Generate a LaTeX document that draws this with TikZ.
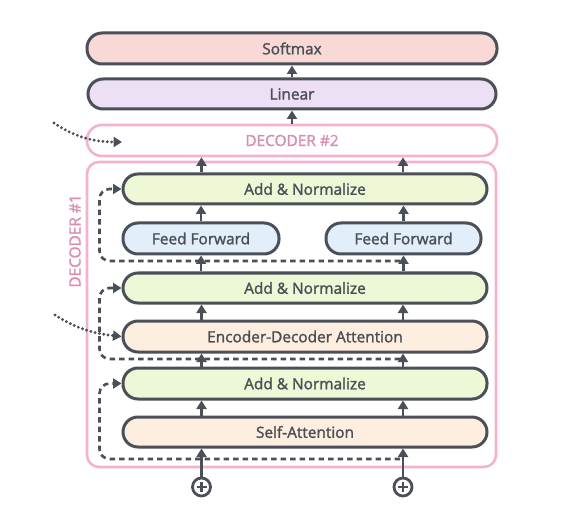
\documentclass[tikz,border=0pt]{standalone}
\usepackage{fontspec}
\setmainfont{Open Sans}[FakeBold=1.6]
\usetikzlibrary{arrows.meta,calc}
\definecolor{ink}{HTML}{4B5058}
\definecolor{txt}{HTML}{4A4F57}
\definecolor{pinkb}{HTML}{F4B2CE}
\definecolor{pinkt}{HTML}{D88FB0}
\definecolor{fsoft}{HTML}{F8D9D5}
\definecolor{flin}{HTML}{EDDFF5}
\definecolor{fadd}{HTML}{EEF8D7}
\definecolor{fff}{HTML}{E2EEFA}
\definecolor{fatt}{HTML}{FDEEDF}
\tikzset{
  layer/.style={draw=ink, line width=3pt, rounded corners=15pt, minimum height=30pt, inner sep=0pt, text=txt, font=\fontsize{15.4}{17}\selectfont},
  decbox/.style={draw=pinkb, line width=2.6pt, inner sep=0pt},
  flow/.style={draw=ink, line width=2.6pt, -{Triangle[width=10pt,length=8.5pt]}},
  resid/.style={draw=ink, line width=2.6pt, dash pattern=on 5.5pt off 4pt, rounded corners=10pt, -{Triangle[width=10pt,length=8.5pt]}},
  extin/.style={draw=ink, line width=3.2pt, dash pattern=on 0pt off 4.4pt, line cap=round, -{Triangle[width=10pt,length=8.5pt]}},
  plusc/.style={circle, draw=ink, line width=2.8pt, minimum size=18pt, inner sep=0pt},
}
\begin{document}
\begin{tikzpicture}[x=1pt,y=-1pt]
\useasboundingbox (0,0) rectangle (588,526);
% decoder containers
\node[decbox, rounded corners=12pt, minimum width=409pt, minimum height=305pt] (dec1) at (291.5,314.5) {};
\node[decbox, rounded corners=15pt, minimum width=410pt, minimum height=31pt, text=pinkt, font=\fontsize{15.4}{17}\selectfont] (dec2) at (292,140.5) {DECODER \#2};
\node[text=pinkt, font=\fontsize{15.4}{17}\selectfont, rotate=90] (dec1lbl) at (75,241) {DECODER \#1};
% top layers
\node[layer, fill=fsoft, minimum width=410pt, minimum height=31pt] (soft) at (292,48.5) {Softmax};
\node[layer, fill=flin, minimum width=408pt] (lin) at (292,94) {Linear};
% decoder #1 layers
\node[layer, fill=fadd, minimum width=364pt] (an3) at (305,189) {Add \& Normalize};
\node[layer, fill=fff, minimum width=156pt, minimum height=31pt] (ffl) at (201,238.5) {Feed Forward};
\node[layer, fill=fff, minimum width=155pt, minimum height=31pt] (ffr) at (403.5,238.5) {Feed Forward};
\node[layer, fill=fadd, minimum width=364pt] (an2) at (305,288) {Add \& Normalize};
\node[layer, fill=fatt, minimum width=364pt, minimum height=31pt] (encdec) at (305,336.5) {Encoder-Decoder Attention};
\node[layer, fill=fadd, minimum width=364pt, minimum height=31pt] (an1) at (305,383.5) {Add \& Normalize};
\node[layer, fill=fatt, minimum width=364pt] (sa) at (305,432) {Self-Attention};
% inputs
\node[plusc] (p1) at (201.5,487) {};
\node[plusc] (p2) at (403,487) {};
\foreach \p in {p1,p2}{
  \draw[ink, line width=2.4pt] ($(\p)+(0,-5)$) -- ($(\p)+(0,5)$) ($(\p)+(-5,0)$) -- ($(\p)+(5,0)$);
}
% vertical flow
\foreach \x in {201.5,403}{
  \draw[flow] (p1.north -| \x,0) -- (sa.south -| \x,0);
  \draw[flow] (sa.north -| \x,0) -- (an1.south -| \x,0);
  \draw[flow] (an1.north -| \x,0) -- (encdec.south -| \x,0);
  \draw[flow] (encdec.north -| \x,0) -- (an2.south -| \x,0);
  \draw[flow] (an3.north -| \x,0) -- (dec2.south -| \x,0);
}
\draw[flow] (an2.north -| ffl) -- (ffl.south);
\draw[flow] (an2.north -| ffr) -- (ffr.south);
\draw[flow] (ffl.north) -- (an3.south -| ffl);
\draw[flow] (ffr.north) -- (an3.south -| ffr);
\draw[flow] (dec2.north) -- (lin.south);
\draw[flow] (lin.north) -- (soft.south);
% residual connections
\coordinate (r1) at (400,459);
\coordinate (r2) at (400,359);
\coordinate (r3) at (400,261);
\draw[resid] (r1) -| ($(an1.west)+(-22,0)$) -- (an1.west);
\draw[resid] (r2) -| ($(an2.west)+(-22,0)$) -- (an2.west);
\draw[resid] (r3) -| ($(an3.west)+(-22,0)$) -- (an3.west);
% encoder inputs
\coordinate (e1) at (54,123);
\coordinate (e1t) at (122,142);
\coordinate (e2) at (55,315);
\draw[extin] (e1) .. controls (76,138) and (96,142) .. (e1t);
\draw[extin] (e2) .. controls (78,330) and (98,334) .. (encdec.west);
\end{tikzpicture}
\end{document}
